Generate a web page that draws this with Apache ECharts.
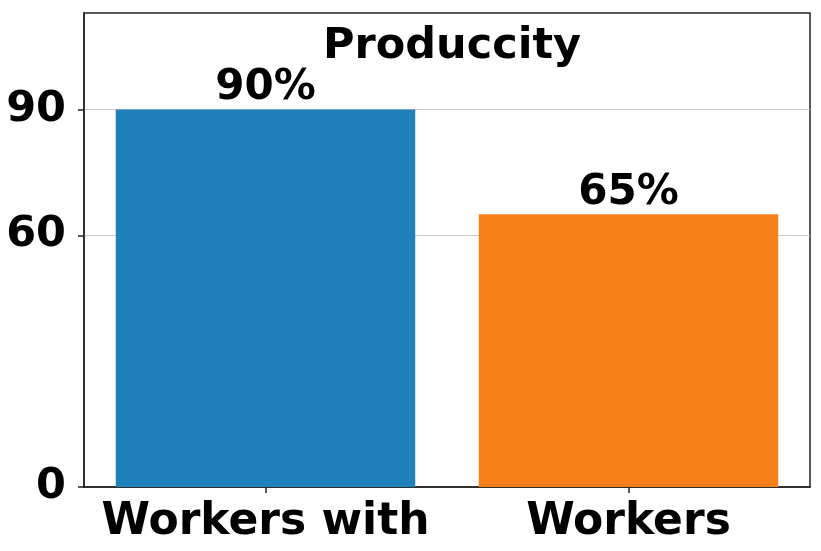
<!DOCTYPE html>
<html>
<head>
<meta charset="utf-8">
<script src="https://cdn.jsdelivr.net/npm/echarts@6/dist/echarts.min.js"></script>
<style>
html,body{margin:0;padding:0;background:#fff;}
#chart{width:821px;height:551px;}
</style>
</head>
<body>
<div id="chart"></div>
<script>
var titleText = 'Produccity';
var categories = ['Workers with', 'Workers'];
var values = [90, 65];
var barColors = ['#2080ba', '#f8801a'];
var yTicks = [0, 60, 90];

var FONT = '"DejaVu Sans", sans-serif';
var chart = echarts.init(document.getElementById('chart'), null, {renderer: 'canvas'});
chart.setOption({
  backgroundColor: '#ffffff',
  animation: false,
  title: {
    text: titleText,
    left: 447, textAlign: 'center', top: 20,
    textStyle: {fontFamily: FONT, fontWeight: 'bold', fontSize: 43, color: '#000'}
  },
  grid: {
    left: 84, right: 11, top: 13, bottom: 64,
    show: true, borderColor: '#222', borderWidth: 1.5, backgroundColor: 'transparent'
  },
  xAxis: {
    type: 'category',
    data: categories,
    axisLine: {lineStyle: {color: '#222', width: 1.5}},
    axisTick: {show: true, alignWithLabel: true, length: 6, lineStyle: {color: '#222', width: 1.5}},
    axisLabel: {fontFamily: FONT, fontWeight: 'bold', fontSize: 44, color: '#000', margin: 14, interval: 0}
  },
  yAxis: {
    type: 'value',
    min: 0, max: 113,
    interval: 30,
    axisLine: {show: true, lineStyle: {color: '#222', width: 1.5}},
    axisTick: {show: true, length: 6, customValues: yTicks, lineStyle: {color: '#222', width: 1.5}},
    axisLabel: {fontFamily: FONT, fontWeight: 'bold', fontSize: 43, color: '#000', margin: 18, customValues: yTicks},
    splitLine: {show: false}
  },
  series: [{
    type: 'bar',
    barWidth: '82.5%',
    data: values.map(function (v, i) { return {value: v, itemStyle: {color: barColors[i]}}; }),
    label: {
      show: true, position: 'top', distance: 0,
      formatter: function (p) { return p.value + '%'; },
      fontFamily: FONT, fontWeight: 'bold', fontSize: 42, color: '#000'
    },
    markLine: {
      silent: true, symbol: 'none', label: {show: false},
      lineStyle: {color: '#c8c8c8', width: 1, type: 'solid'},
      data: yTicks.filter(function (t) { return t > 0; }).map(function (t) { return {yAxis: t}; }),
      z: 0
    },
    z: 2
  }]
});
</script>
</body>
</html>
